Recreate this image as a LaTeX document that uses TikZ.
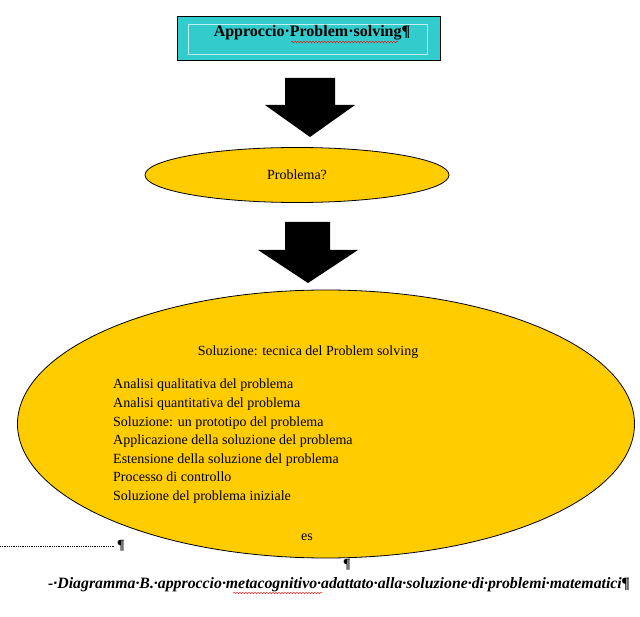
\documentclass[tikz,border=0pt]{standalone}
\usepackage{fontspec}
\setmainfont{Liberation Serif}
\usetikzlibrary{shapes.geometric,decorations.pathmorphing}
\definecolor{teal1}{HTML}{33CCCC}
\definecolor{gold1}{HTML}{FFCC00}
\tikzset{oval/.style={ellipse,draw=black,fill=gold1,line width=0.8pt}, txt/.style={font=\fontsize{14}{17}\selectfont}}
\begin{document}
\begin{tikzpicture}[x=1pt,y=-1pt]
\useasboundingbox (0,0) rectangle (640,617);
\node[draw=black,fill=teal1,minimum width=263pt,minimum height=44pt,line width=0.8pt] (top) at (308.5,38) {};
\draw[white!70!teal1] (188,24) rectangle (427,54);
\node[font=\bfseries\fontsize{16}{18}\selectfont] (toptext) at (312,33) {Approccio·Problem·solving¶};
\draw[red,decorate,decoration={snake,amplitude=0.8pt,segment length=3pt}] (291,42) -- (398,42);
\fill[black] (285,78) -- (335,78) -- (335,105) -- (355,105) -- (310,137) -- (265,105) -- (285,105) -- cycle;
\node[oval,minimum width=304pt,minimum height=55pt] (p) at (297,175) {};
\node[txt] (ptext) at (297,175) {Problema?};
\fill[black] (285,222) -- (330,222) -- (330,250) -- (358,250) -- (308,283) -- (258,250) -- (285,250) -- cycle;
\node[oval,minimum width=617pt,minimum height=268pt] (s) at (326,424) {};
\node[txt] (stitle) at (308,352) {Soluzione: tecnica del Problem solving};
\node[font=\fontsize{14}{18.6}\selectfont,anchor=north west,align=left,inner sep=0pt] (list) at (113,379) {Analisi qualitativa del problema\\
Analisi quantitativa del problema\\
Soluzione: un prototipo del problema\\
Applicazione della soluzione del problema\\
Estensione della soluzione del problema\\
Processo di controllo\\
Soluzione del problema iniziale};
\node[txt] (es) at (307,537) {es};
\coordinate (d0) at (0,546);
\coordinate (d1) at (115,546);
\draw[densely dotted,line width=0.8pt] (d0) -- (d1);
\node[font=\bfseries\fontsize{14}{16}\selectfont] (pil1) at (121,546) {¶};
\node[font=\bfseries\fontsize{14}{16}\selectfont] (pil2) at (347,565) {¶};
\node[font=\bfseries\itshape\fontsize{15.8}{18}\selectfont,anchor=west,inner sep=0pt] (cap) at (48,585) {-·Diagramma·B.·approccio·metacognitivo·adattato·alla·soluzione·di·problemi·matematici¶};
\draw[red,decorate,decoration={snake,amplitude=0.8pt,segment length=3pt}] (233,593) -- (322,593);
\end{tikzpicture}
\end{document}
